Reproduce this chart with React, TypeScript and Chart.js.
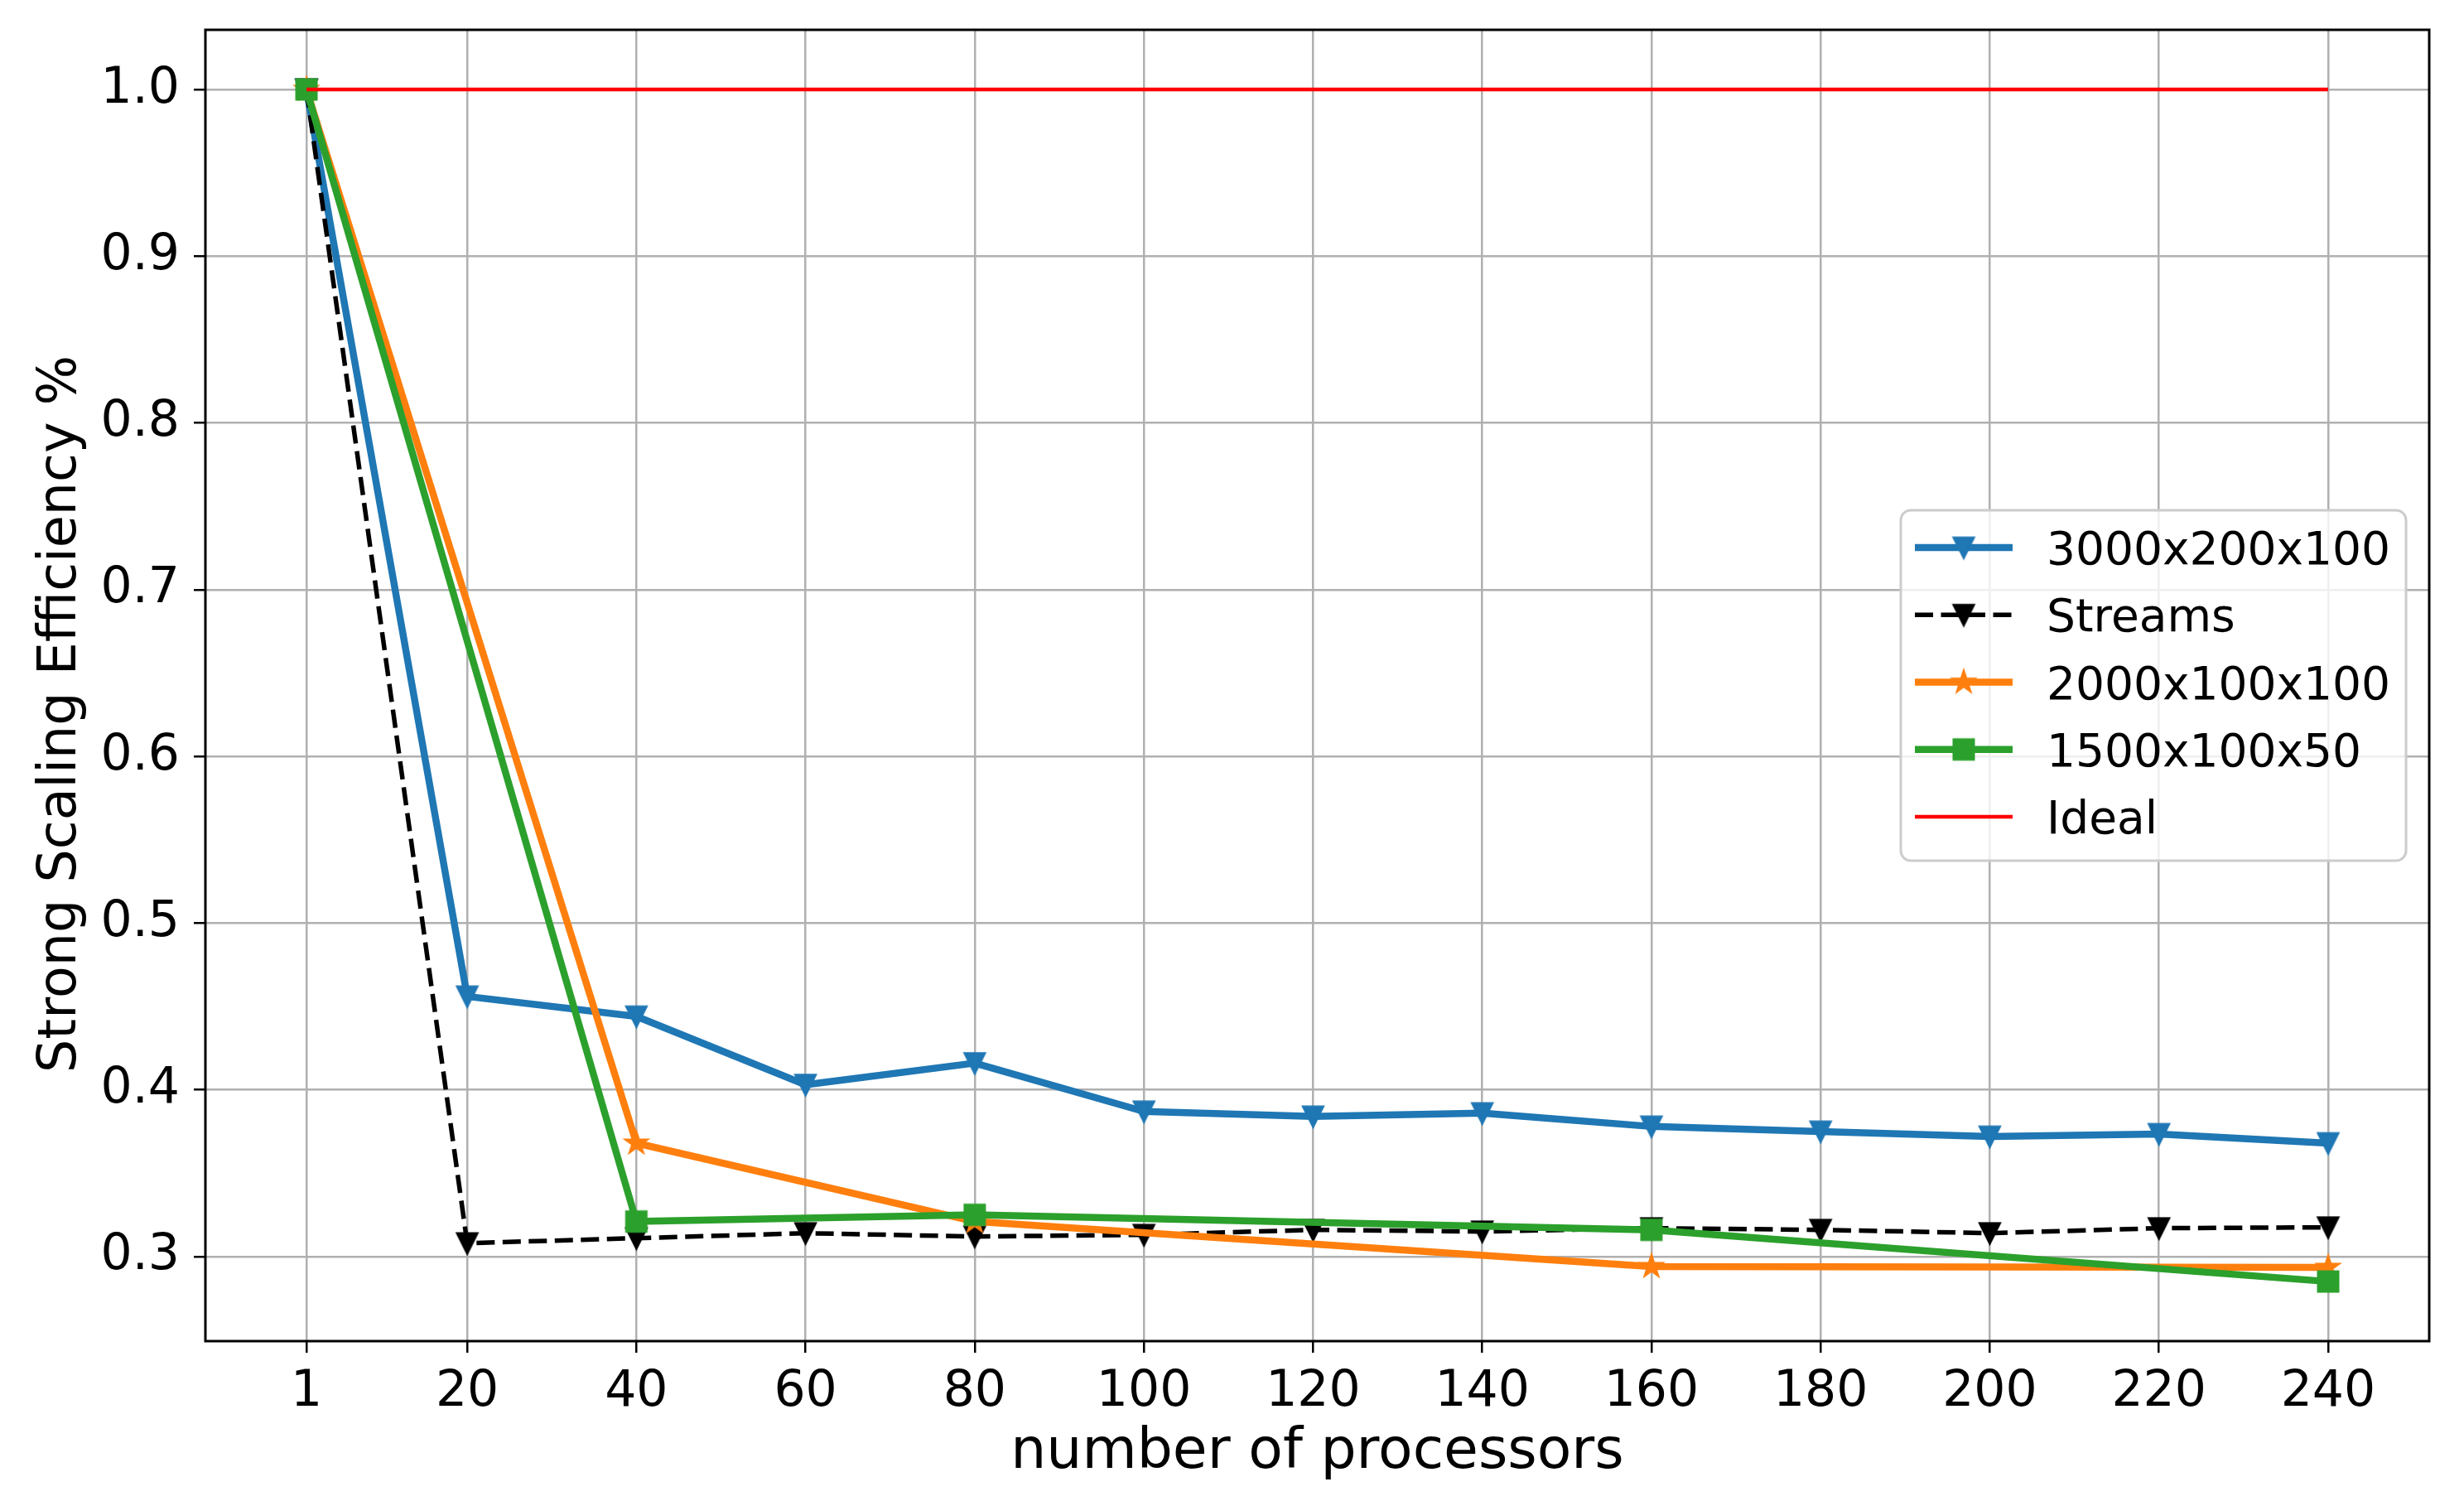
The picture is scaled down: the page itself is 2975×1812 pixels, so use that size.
import { useEffect, useRef } from 'react';
import { Chart, registerables } from 'chart.js';

Chart.register(...registerables);

// ---- data ----
const processors = [1, 20, 40, 60, 80, 100, 120, 140, 160, 180, 200, 220, 240];
const eff3000 = [1.0, 0.456, 0.444, 0.403, 0.416, 0.387, 0.384, 0.386, 0.378, 0.375, 0.372, 0.3735, 0.368];
const effStreams = [1.0, 0.308, 0.311, 0.314, 0.312, 0.313, 0.316, 0.315, 0.317, 0.316, 0.314, 0.317, 0.3175];
const procs2000 = [1, 40, 80, 160, 240];
const eff2000 = [1.0, 0.368, 0.321, 0.294, 0.2935];
const procs1500 = [1, 40, 80, 160, 240];
const eff1500 = [1.0, 0.321, 0.325, 0.316, 0.285];
const procsIdeal = [1, 240];
const effIdeal = [1.0, 1.0];

const xTickValues = [1, 20, 40, 60, 80, 100, 120, 140, 160, 180, 200, 220, 240];
const yTickValues = [0.3, 0.4, 0.5, 0.6, 0.7, 0.8, 0.9, 1.0];
const seriesNames = ['3000x200x100', 'Streams', '2000x100x100', '1500x100x50', 'Ideal'];

const FONT = '"DejaVu Sans", "Liberation Sans", sans-serif';
const BLUE = '#1f77b4';
const ORANGE = '#ff7f0e';
const GREEN = '#2ca02c';
const RED = '#ff0000';
const BLACK = '#000000';

function makeMarker(kind: string, color: string, size: number, edge: number) {
  const pad = 10;
  const c = document.createElement('canvas');
  const dim = Math.ceil(size + 2 * pad);
  c.width = dim;
  c.height = dim;
  const ctx = c.getContext('2d') as CanvasRenderingContext2D;
  const cx = dim / 2;
  const cy = dim / 2;
  const h = size / 2;
  ctx.fillStyle = color;
  ctx.strokeStyle = color;
  ctx.lineWidth = edge;
  ctx.lineJoin = 'miter';
  ctx.beginPath();
  if (kind === 'tri') {
    ctx.moveTo(cx - h, cy - h);
    ctx.lineTo(cx + h, cy - h);
    ctx.lineTo(cx, cy + h);
    ctx.closePath();
  } else if (kind === 'square') {
    ctx.rect(cx - h, cy - h, size, size);
  } else if (kind === 'star') {
    for (let i = 0; i < 10; i++) {
      const a = -Math.PI / 2 + (i * Math.PI) / 5;
      const r = i % 2 === 0 ? h : h * 0.381966;
      const px = cx + r * Math.cos(a);
      const py = cy + r * Math.sin(a);
      if (i === 0) ctx.moveTo(px, py);
      else ctx.lineTo(px, py);
    }
    ctx.closePath();
  }
  ctx.fill();
  ctx.stroke();
  return c;
}

function toPoints(xs: number[], ys: number[]) {
  return xs.map((x, i) => ({ x, y: ys[i] }));
}

export default function App() {
  const ref = useRef<HTMLCanvasElement | null>(null);

  useEffect(() => {
    const canvas = ref.current;
    if (!canvas) return;

    const triBlue = makeMarker('tri', BLUE, 23, 3.5);
    const triBlack = makeMarker('tri', BLACK, 23, 3.5);
    const starOrange = makeMarker('star', ORANGE, 26, 3);
    const sqGreen = makeMarker('square', GREEN, 23.5, 3.5);

    const legendItems = [
      { label: seriesNames[0], color: BLUE, width: 8.5, dash: [] as number[], marker: triBlue },
      { label: seriesNames[1], color: BLACK, width: 5.5, dash: [22, 9.5], marker: triBlack },
      { label: seriesNames[2], color: ORANGE, width: 8.5, dash: [] as number[], marker: starOrange },
      { label: seriesNames[3], color: GREEN, width: 8.5, dash: [] as number[], marker: sqGreen },
      { label: seriesNames[4], color: RED, width: 4.5, dash: [] as number[], marker: null },
    ];

    const framePlugin = {
      id: 'frameAndLegend',
      afterDatasetsDraw(chart: any) {
        const { ctx, chartArea } = chart;
        const { left, right, top, bottom } = chartArea;
        // frame (spines)
        ctx.save();
        ctx.strokeStyle = '#000';
        ctx.lineWidth = 3;
        ctx.strokeRect(left, top, right - left, bottom - top);
        ctx.restore();

        // legend
        const boxRight = right - 28;
        const boxW = 610;
        const boxH = 423;
        const boxLeft = boxRight - boxW;
        const cy = (top + bottom) / 2;
        const boxTop = cy - boxH / 2;
        ctx.save();
        ctx.beginPath();
        const r = 12;
        ctx.moveTo(boxLeft + r, boxTop);
        ctx.lineTo(boxLeft + boxW - r, boxTop);
        ctx.arcTo(boxLeft + boxW, boxTop, boxLeft + boxW, boxTop + r, r);
        ctx.lineTo(boxLeft + boxW, boxTop + boxH - r);
        ctx.arcTo(boxLeft + boxW, boxTop + boxH, boxLeft + boxW - r, boxTop + boxH, r);
        ctx.lineTo(boxLeft + r, boxTop + boxH);
        ctx.arcTo(boxLeft, boxTop + boxH, boxLeft, boxTop + boxH - r, r);
        ctx.lineTo(boxLeft, boxTop + r);
        ctx.arcTo(boxLeft, boxTop, boxLeft + r, boxTop, r);
        ctx.closePath();
        ctx.fillStyle = 'rgba(255,255,255,0.8)';
        ctx.fill();
        ctx.strokeStyle = '#cccccc';
        ctx.lineWidth = 3;
        ctx.stroke();

        const fs = 55;
        ctx.font = `${fs}px ${FONT}`;
        ctx.textAlign = 'left';
        ctx.textBaseline = 'alphabetic';
        legendItems.forEach((it, i) => {
          const ry = boxTop + 45 + i * 81.25;
          const x0 = boxLeft + 17;
          const x1 = boxLeft + 135;
          ctx.save();
          ctx.strokeStyle = it.color;
          ctx.lineWidth = it.width;
          ctx.setLineDash(it.dash);
          ctx.lineCap = 'butt';
          ctx.beginPath();
          ctx.moveTo(x0, ry);
          ctx.lineTo(x1, ry);
          ctx.stroke();
          ctx.restore();
          if (it.marker) {
            const mx = (x0 + x1) / 2;
            ctx.drawImage(it.marker, mx - it.marker.width / 2, ry - it.marker.height / 2);
          }
          ctx.fillStyle = '#000';
          ctx.fillText(it.label, boxLeft + 176, ry + 0.3645 * fs);
        });
        ctx.restore();

        // y axis title
        ctx.save();
        ctx.translate(74, 862);
        ctx.rotate(-Math.PI / 2);
        ctx.font = `63.5px ${FONT}`;
        ctx.fillStyle = '#000';
        ctx.textAlign = 'center';
        ctx.textBaseline = 'middle';
        ctx.fillText('Strong Scaling Efficiency %', 0, 0);
        ctx.restore();
      },
    };

    Chart.defaults.font.family = FONT;

    const chart = new Chart(canvas, {
      type: 'line',
      data: {
        datasets: [
          {
            label: seriesNames[0],
            data: toPoints(processors, eff3000),
            borderColor: BLUE,
            backgroundColor: BLUE,
            borderWidth: 8.5,
            borderJoinStyle: 'round',
            borderCapStyle: 'square',
            pointStyle: triBlue as any,
            pointRadius: 12,
            order: 5,
          },
          {
            label: seriesNames[1],
            data: toPoints(processors, effStreams),
            borderColor: BLACK,
            backgroundColor: BLACK,
            borderWidth: 5.5,
            borderDash: [22, 9.5],
            borderCapStyle: 'butt',
            pointStyle: triBlack as any,
            pointRadius: 12,
            order: 4,
          },
          {
            label: seriesNames[2],
            data: toPoints(procs2000, eff2000),
            borderColor: ORANGE,
            backgroundColor: ORANGE,
            borderWidth: 8.5,
            borderJoinStyle: 'round',
            borderCapStyle: 'square',
            pointStyle: starOrange as any,
            pointRadius: 12,
            order: 3,
          },
          {
            label: seriesNames[3],
            data: toPoints(procs1500, eff1500),
            borderColor: GREEN,
            backgroundColor: GREEN,
            borderWidth: 8.5,
            borderJoinStyle: 'round',
            borderCapStyle: 'square',
            pointStyle: sqGreen as any,
            pointRadius: 12,
            order: 2,
          },
          {
            label: seriesNames[4],
            data: toPoints(procsIdeal, effIdeal),
            borderColor: RED,
            backgroundColor: RED,
            borderWidth: 4.5,
            pointRadius: 0,
            order: 1,
          },
        ],
      },
      options: {
        animation: false,
        responsive: false,
        devicePixelRatio: 1,
        layout: { padding: { top: 36, right: 42, left: 0, bottom: 0 } },
        plugins: {
          legend: { display: false },
          tooltip: { enabled: false },
          title: { display: false },
        },
        elements: { line: { tension: 0 } },
        scales: {
          x: {
            type: 'linear',
            min: -10.95,
            max: 251.95,
            afterBuildTicks: (scale: any) => {
              scale.ticks = xTickValues.map((v) => ({ value: v }));
            },
            afterFit: (scale: any) => {
              scale.height = 193;
              scale.paddingLeft = 0;
              scale.paddingRight = 0;
              scale.paddingTop = 0;
              scale.paddingBottom = 0;
            },
            ticks: {
              autoSkip: false,
              maxRotation: 0,
              minRotation: 0,
              padding: 12,
              color: '#000',
              font: { size: 60, family: FONT },
              callback: (v: any) => String(v),
            },
            grid: {
              color: '#b0b0b0',
              lineWidth: 2.5,
              drawTicks: true,
              tickLength: 14,
              tickColor: '#000',
              tickWidth: 2.5,
            },
            border: { display: false },
            title: {
              display: true,
              text: 'number of processors',
              color: '#000',
              font: { size: 68, family: FONT },
              padding: { top: 0, bottom: 17 },
            },
          },
          y: {
            type: 'linear',
            min: 0.24925,
            max: 1.03575,
            afterBuildTicks: (scale: any) => {
              scale.ticks = yTickValues.map((v) => ({ value: v }));
            },
            afterFit: (scale: any) => {
              scale.width = 248;
              scale.paddingLeft = 0;
              scale.paddingRight = 0;
              scale.paddingTop = 0;
              scale.paddingBottom = 0;
            },
            ticks: {
              autoSkip: false,
              padding: 17,
              color: '#000',
              font: { size: 60, family: FONT },
              callback: (v: any) => Number(v).toFixed(1),
            },
            grid: {
              color: '#b0b0b0',
              lineWidth: 2.5,
              drawTicks: true,
              tickLength: 14,
              tickColor: '#000',
              tickWidth: 2.5,
            },
            border: { display: false },
            title: { display: false },
          },
        },
      },
      plugins: [framePlugin],
    } as any);

    return () => {
      chart.destroy();
    };
  }, []);

  return (
    <div style={{ position: 'fixed', left: 0, top: 0, width: 2975, height: 1812, background: '#fff' }}>
      <canvas ref={ref} width={2975} height={1812} style={{ width: 2975, height: 1812, display: 'block' }} />
    </div>
  );
}
